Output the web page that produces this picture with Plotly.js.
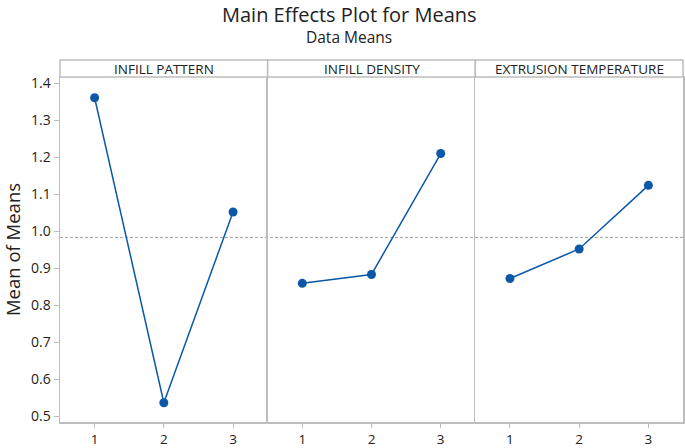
<!DOCTYPE html>
<html><head><meta charset="utf-8">
<script src="https://cdn.plot.ly/plotly-3.0.1.min.js"></script>
<style>html,body{margin:0;padding:0;background:#fff;}#chart{width:685px;height:448px;}</style>
</head><body><div id="chart"></div>
<script>
const levels = [1, 2, 3];
const factors = ["INFILL PATTERN", "INFILL DENSITY", "EXTRUSION TEMPERATURE"];
const infillPattern = [1.361, 0.536, 1.052];
const infillDensity = [0.859, 0.883, 1.210];
const extrusionTemp = [0.872, 0.952, 1.124];
const yTicks = [0.5, 0.6, 0.7, 0.8, 0.9, 1.0, 1.1, 1.2, 1.3, 1.4];
const yTickLabels = ["0.5", "0.6", "0.7", "0.8", "0.9", "1.0", "1.1", "1.2", "1.3", "1.4"];

const series = [infillPattern, infillDensity, extrusionTemp];
const all = series.flat();
const grandMean = all.reduce((a, b) => a + b, 0) / all.length;

const blue = "#0B58A8";
const frame = "#BDBDBD";
const font = "'Open Sans', 'Noto Sans', sans-serif";

const traces = series.map((vals, i) => ({
  x: levels, y: vals, type: "scatter", mode: "lines+markers",
  xaxis: i === 0 ? "x" : "x" + (i + 1), yaxis: i === 0 ? "y" : "y" + (i + 1),
  line: {color: blue, width: 1.5}, marker: {color: blue, size: 9},
  showlegend: false, hoverinfo: "x+y"
}));

const plotH = 448 - 77 - 26;
const stripH = 17 / plotH;
const layout = {
  width: 685, height: 448,
  margin: {l: 60, r: 2, t: 77, b: 26},
  paper_bgcolor: "#fff", plot_bgcolor: "#fff",
  font: {family: font, color: "#222"},
  showlegend: false,
  annotations: [
    {text: "Main Effects Plot for Means", xref: "paper", yref: "paper", x: 0.464, y: 1 + 62.5/plotH, xanchor: "center", yanchor: "middle", showarrow: false, font: {size: 20, family: font, color: "#222"}},
    {text: "Data Means", xref: "paper", yref: "paper", x: 0.464, y: 1 + 40.5/plotH, xanchor: "center", yanchor: "middle", showarrow: false, font: {size: 15.5, family: font, color: "#222"}}
  ],
  shapes: [
    {type: "line", xref: "paper", yref: "y", x0: 0, x1: 1, y0: grandMean, y1: grandMean, line: {color: "#A0A0A0", width: 1, dash: "3px,2px"}, layer: "below"}
  ]
};

const yRange = [0.484, 1.417];
for (let i = 0; i < 3; i++) {
  const xs = i === 0 ? "xaxis" : "xaxis" + (i + 1);
  const ys = i === 0 ? "yaxis" : "yaxis" + (i + 1);
  layout[xs] = {
    domain: [i / 3, (i + 1) / 3], range: [0.5, 3.5],
    anchor: i === 0 ? "y" : "y" + (i + 1),
    tickvals: levels, ticktext: levels.map(String),
    ticks: "outside", ticklen: 4, tickcolor: frame, tickwidth: 1,
    showline: true, mirror: true, linecolor: frame, linewidth: 1.5,
    showgrid: false, zeroline: false, fixedrange: true,
    tickfont: {size: 13.5, family: font, color: "#222"}
  };
  layout[ys] = {
    domain: [0, 1], range: yRange,
    anchor: i === 0 ? "x" : "x" + (i + 1),
    tickvals: yTicks, ticktext: yTickLabels,
    showticklabels: i === 0,
    ticks: i === 0 ? "outside" : "", ticklen: 5, tickcolor: frame, tickwidth: 1,
    showline: true, mirror: i === 2, linecolor: frame, linewidth: 1.5,
    showgrid: false, zeroline: false, fixedrange: true,
    tickfont: {size: 14, family: font, color: "#222"}
  };
  if (i === 0) {
    layout[ys].title = {text: "Mean of Means", font: {size: 18.5, family: font, color: "#222"}, standoff: 6};
  }
  layout.shapes.push({type: "rect", xref: "paper", yref: "paper", x0: i / 3, x1: (i + 1) / 3, y0: 1, y1: 1 + stripH, line: {color: frame, width: 1.5}, fillcolor: "#fff"});
  layout.annotations.push({text: factors[i], xref: "paper", yref: "paper", x: (i + 0.5) / 3, y: 1 + stripH / 2, xanchor: "center", yanchor: "middle", showarrow: false, font: {size: 13.5, family: font, color: "#222"}});
}

Plotly.newPlot("chart", traces, layout, {displayModeBar: false, staticPlot: true});
</script></body></html>
